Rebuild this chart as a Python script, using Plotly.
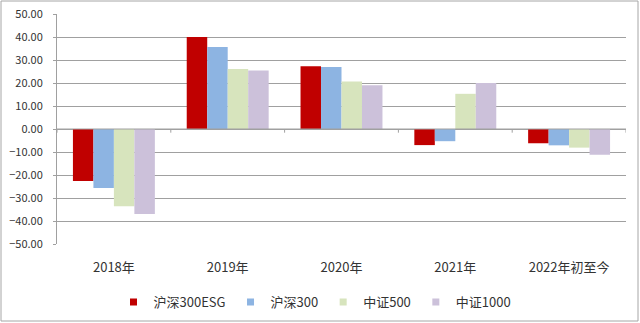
import plotly.graph_objects as go

# Annual returns (%) of the four indices
categories = ["2018年", "2019年", "2020年", "2021年", "2022年初至今"]
series_names = ["沪深300ESG", "沪深300", "中证500", "中证1000"]
hs300esg = [-22.6, 40.0, 27.3, -7.0, -6.2]
hs300 = [-25.6, 35.7, 27.0, -5.3, -7.1]
zz500 = [-33.6, 26.1, 20.6, 15.3, -8.1]
zz1000 = [-37.0, 25.4, 19.0, 20.0, -11.2]
colors = ["#C00000", "#8DB4E2", "#D7E4BD", "#CCC1DA"]

W, H = 640, 323
ML, MR, MT, MB = 57, 14, 14, 79
PW, PH = W - ML - MR, H - MT - MB

font = "Noto Sans CJK SC, Liberation Sans, sans-serif"
fig = go.Figure()
for name, vals, col in zip(series_names, [hs300esg, hs300, zz500, zz1000], colors):
    fig.add_trace(go.Bar(x=categories, y=vals, name=name, showlegend=False,
                         marker=dict(color=col, line=dict(width=0))))
# legend entries with small square keys
for name, col in zip(series_names, colors):
    fig.add_trace(go.Scatter(x=[None], y=[None], mode="markers", name=name,
                             marker=dict(symbol="square", size=7, color=col)))

# small tick marks on the zero line between categories
shapes = []
for i in range(len(categories) + 1):
    shapes.append(dict(type="line", xref="x", yref="y", x0=i - 0.5, x1=i - 0.5, y0=0, y1=-1.6,
                       line=dict(color="#A0A0A0", width=1)))
shapes.append(dict(type="line", xref="paper", yref="y", x0=0, x1=1, y0=0, y1=0,
                   line=dict(color="#A0A0A0", width=1)))
# outer chart border
shapes.append(dict(type="rect", xref="paper", yref="paper",
                   x0=(1 - ML) / PW, x1=(W - 2 - ML) / PW,
                   y0=-(H - 2 - MT - PH) / PH, y1=1 + (MT - 1) / PH,
                   line=dict(color="#A6A6A6", width=1)))

fig.update_layout(
    width=W, height=H,
    margin=dict(l=ML, r=MR, t=MT, b=MB, pad=0),
    paper_bgcolor="white", plot_bgcolor="white",
    barmode="group", bargap=0.28, bargroupgap=0,
    font=dict(family=font, size=11, color="#333333"),
    xaxis=dict(showgrid=False, showline=False, ticks="", tickfont=dict(size=13),
               ticklabelstandoff=14, range=[-0.5, 4.5], automargin=False),
    yaxis=dict(range=[-50, 50], dtick=10, tickformat=".2f", showgrid=True,
               gridcolor="#A0A0A0", gridwidth=1, zeroline=False,
               showline=True, linecolor="#A0A0A0", linewidth=1,
               ticks="outside", ticklen=3, tickcolor="#A0A0A0",
               ticklabelstandoff=8, automargin=False,
               tickfont=dict(size=11, color="#333333")),
    legend=dict(orientation="h", x=315 / W, xanchor="center", xref="container",
                y=(H - 302) / H, yanchor="middle", yref="container",
                font=dict(size=13, color="#333333"), itemwidth=30,
                traceorder="normal"),
    shapes=shapes,
)
fig.write_html("out.html")
